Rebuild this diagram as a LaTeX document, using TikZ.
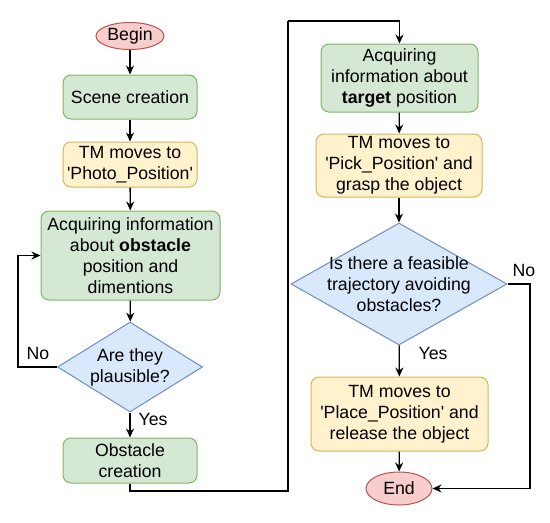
\documentclass[tikz,border=0pt]{standalone}
\usepackage{fontspec}
\setmainfont{Liberation Sans}
\usetikzlibrary{shapes.geometric,arrows.meta}
\newcommand\sq{\textquotesingle}
\definecolor{gfill}{HTML}{D5E8D4}\definecolor{gdraw}{HTML}{82B366}
\definecolor{yfill}{HTML}{FFF2CC}\definecolor{ydraw}{HTML}{D6B656}
\definecolor{rfill}{HTML}{F8CECC}\definecolor{rdraw}{HTML}{B85450}
\definecolor{bfill}{HTML}{DAE8FC}\definecolor{bdraw}{HTML}{6C8EBF}
\tikzset{
  base/.style={inner sep=0pt, align=center, line width=1pt, font=\fontsize{17.7}{21}\selectfont},
  gbox/.style={base, rectangle, rounded corners=8pt, fill=gfill, draw=gdraw},
  ybox/.style={base, rectangle, rounded corners=8pt, fill=yfill, draw=ydraw},
  term/.style={base, ellipse, fill=rfill, draw=rdraw},
  dia/.style={base, diamond, fill=bfill, draw=bdraw},
  txt/.style={inner sep=0pt, align=center, font=\fontsize{17.7}{21}\selectfont},
  arr/.style={line width=1.3pt, -{Stealth[length=9pt,width=8pt]}},
  lbl/.style={inner sep=0pt, font=\fontsize{17.7}{21}\selectfont},
}
\begin{document}
\begin{tikzpicture}[x=1pt,y=-1pt]
\useasboundingbox (0,0) rectangle (550,523);
% left column
\node[term, minimum width=68pt, minimum height=27pt] (begin) at (130,36) {Begin};
\node[gbox, minimum width=134pt, minimum height=44pt] (scene) at (130,97) {Scene creation};
\node[ybox, minimum width=134pt, minimum height=45pt] (photo) at (130,164.5) {TM moves to\\\sq Photo\_Position\sq};
\node[gbox, minimum width=179pt, minimum height=89pt] (acq1) at (130.5,255.5) {Acquiring information\\about \textbf{obstacle}\\position and\\dimentions};
\node[dia, minimum width=145pt, minimum height=90pt] (d1) at (130,367) {};
\node[txt] (d1t) at (d1) {Are they\\plausible?};
\node[gbox, minimum width=134pt, minimum height=45pt] (obst) at (130,460.5) {Obstacle\\creation};
% right column
\node[gbox, minimum width=157pt, minimum height=68pt] (acq2) at (399.5,78) {Acquiring\\information about\\\textbf{target} position};
\node[ybox, minimum width=166pt, minimum height=63pt] (pick) at (399,165.5) {TM moves to\\\sq Pick\_Position\sq{} and\\grasp the object};
\node[dia, minimum width=216pt, minimum height=122pt] (d2) at (399,284) {};
\node[txt] (d2t) at (d2) {Is there a feasible\\trajectory avoiding\\obstacles?};
\node[ybox, minimum width=177pt, minimum height=74pt] (place) at (399.5,414) {TM moves to\\\sq Place\_Position\sq{} and\\release the object};
\node[term, minimum width=66pt, minimum height=33pt] (end) at (399,488.5) {End};
% coordinates
\coordinate (fb) at (18,367);
\coordinate (c2) at (288,491);
\coordinate (c3) at (288,21);
\coordinate (c4) at (530,284);
% connectors
\draw[arr] (begin) -- (scene);
\draw[arr] (scene) -- (photo);
\draw[arr] (photo) -- (acq1);
\draw[arr] (acq1) -- (d1);
\draw[arr] (d1) -- (obst);
\draw[arr] (d1.west) -- (fb) |- (acq1.west);
\draw[line width=1.3pt] (obst.south) |- (c2) -- (c3);
\draw[arr] (c3) -| (acq2.north);
\draw[arr] (acq2) -- (pick);
\draw[arr] (pick) -- (d2);
\draw[arr] (d2) -- (place);
\draw[arr] (place) -- (end);
\draw[arr] (d2.east) -- (c4) |- (end.east);
% labels
\node[lbl] (no1) at (38,353) {No};
\node[lbl] (yes1) at (153,419) {Yes};
\node[lbl] (yes2) at (433,353) {Yes};
\node[lbl] (no2) at (524,270) {No};
\end{tikzpicture}
\end{document}
